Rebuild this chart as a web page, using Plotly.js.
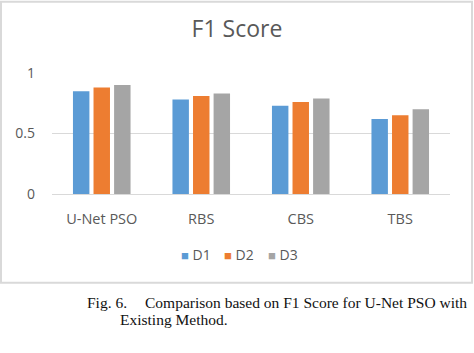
<!DOCTYPE html>
<html>
<head>
<meta charset="utf-8">
<script src="https://cdn.plot.ly/plotly-3.0.1.min.js"></script>
<style>html,body{margin:0;padding:0;background:#fff;}#chart{width:474px;height:353px;}</style>
</head>
<body>
<div id="chart"></div>
<script>
const categories = ["U-Net PSO", "RBS", "CBS", "TBS"];
const seriesNames = ["D1", "D2", "D3"];
const d1 = [0.85, 0.78, 0.73, 0.62];
const d2 = [0.88, 0.81, 0.76, 0.65];
const d3 = [0.90, 0.83, 0.79, 0.70];
const yTicks = [0, 0.5, 1];
const yTickLabels = ["0", "0.5", "1"];
const captionFig = "Fig. 6.";
const captionLine1 = "Comparison based on F1 Score for U-Net PSO with";
const captionLine2 = "Existing Method.";

const colors = ["#5B9BD5", "#ED7D31", "#A5A5A5"];
const W = 474, H = 353;
const L = 52, R = 450, T = 72.5, B = 194;
const px = x => (x - L) / (R - L);
const py = y => (B - y) / (B - T);

const traces = [d1, d2, d3].map((vals, i) => ({
  type: "bar", name: seriesNames[i], x: categories, y: vals,
  marker: {color: colors[i]}, hoverinfo: "none", showlegend: false
}));

// legend entries (drawn as text with coloured square glyphs)
const legendX = [180, 223, 267];
const legendAnn = seriesNames.map((n, i) => ({
  text: "<span style='color:" + colors[i] + ";font-size:13px'>■</span> " + n,
  xref: "paper", yref: "paper", x: px(legendX[i] - 1), y: py(255), xanchor: "left", yanchor: "middle",
  showarrow: false, font: {family: "Open Sans, sans-serif", size: 14, color: "#595959"}
}));

const capFont = {family: "Liberation Serif, Times New Roman, serif", size: 15.5, color: "#111"};
const layout = {
  width: W, height: H,
  margin: {l: L, r: W - R, t: T, b: H - B, pad: 0},
  paper_bgcolor: "#fff", plot_bgcolor: "#fff",
  font: {family: "Open Sans, sans-serif", color: "#595959", size: 14},
  title: {text: "F1 Score", font: {size: 23, color: "#595959"}, x: 0.5, xref: "container",
          y: 1 - 29 / H, yref: "container", yanchor: "middle"},
  barmode: "group", bargap: 0.38, bargroupgap: 0.2,
  xaxis: {showgrid: false, showline: true, linecolor: "#d9d9d9", linewidth: 1, ticks: "",
          ticklabelstandoff: 12, tickfont: {size: 14.5, color: "#595959"}},
  yaxis: {range: [0, 1], tickvals: yTicks, ticktext: yTickLabels, showgrid: true, gridcolor: "#d9d9d9",
          gridwidth: 1, zeroline: false, showline: false, ticks: "", ticklabelstandoff: 16,
          tickfont: {size: 14, color: "#595959"}},
  showlegend: false,
  shapes: [{type: "rect", xref: "paper", yref: "paper", x0: px(1), x1: px(472), y0: py(1), y1: py(283),
            line: {color: "#d9d9d9", width: 2}, fillcolor: "rgba(0,0,0,0)", layer: "below"}],
  annotations: legendAnn.concat([
    {text: captionFig, xref: "paper", yref: "paper", x: px(85), y: py(302.5), xanchor: "left", yanchor: "middle",
     showarrow: false, font: capFont},
    {text: captionLine1, xref: "paper", yref: "paper", x: px(143), y: py(302.5), xanchor: "left", yanchor: "middle",
     showarrow: false, font: capFont},
    {text: captionLine2, xref: "paper", yref: "paper", x: px(118), y: py(320.5), xanchor: "left", yanchor: "middle",
     showarrow: false, font: capFont}
  ])
};

Plotly.newPlot("chart", traces, layout, {displayModeBar: false, staticPlot: true});
</script>
</body>
</html>
